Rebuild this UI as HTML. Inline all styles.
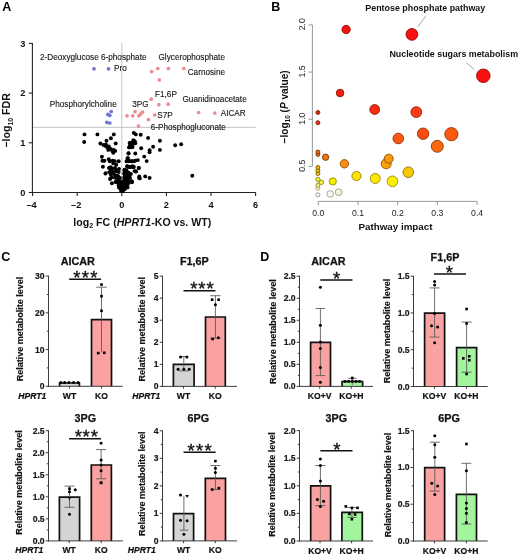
<!DOCTYPE html>
<html><head><meta charset="utf-8"><style>
html,body{margin:0;padding:0;background:#fff;}
body{width:520px;height:557px;overflow:hidden;}
svg{display:block;font-family:"Liberation Sans", sans-serif;will-change:transform;}
</style></head><body>
<svg width="520" height="557" viewBox="0 0 520 557">
<rect width="520" height="557" fill="#fff"/>
<text x="2.3" y="11.1" font-size="12.5" font-weight="bold" text-anchor="start" fill="#000">A</text>
<text x="271.3" y="11.1" font-size="12.5" font-weight="bold" text-anchor="start" fill="#000">B</text>
<text x="1.2" y="260.5" font-size="12.5" font-weight="bold" text-anchor="start" fill="#000">C</text>
<text x="260.3" y="260.5" font-size="12.5" font-weight="bold" text-anchor="start" fill="#000">D</text>
<line x1="121.8" y1="43" x2="121.8" y2="192.5" stroke="#b8b8b8" stroke-width="0.8"/>
<line x1="32.4" y1="127.4" x2="255.6" y2="127.4" stroke="#b8b8b8" stroke-width="0.8"/>
<line x1="32.4" y1="43" x2="32.4" y2="193" stroke="#222" stroke-width="1.1"/>
<line x1="31.9" y1="192.5" x2="255.8" y2="192.5" stroke="#222" stroke-width="1.1"/>
<line x1="28.8" y1="192.5" x2="32.4" y2="192.5" stroke="#222" stroke-width="1.1"/>
<text x="25.4" y="195.8" font-size="9.2" font-weight="bold" text-anchor="end" fill="#111">0</text>
<line x1="28.8" y1="142.8" x2="32.4" y2="142.8" stroke="#222" stroke-width="1.1"/>
<text x="25.4" y="146.1" font-size="9.2" font-weight="bold" text-anchor="end" fill="#111">1</text>
<line x1="28.8" y1="93.1" x2="32.4" y2="93.1" stroke="#222" stroke-width="1.1"/>
<text x="25.4" y="96.4" font-size="9.2" font-weight="bold" text-anchor="end" fill="#111">2</text>
<line x1="28.8" y1="43.4" x2="32.4" y2="43.4" stroke="#222" stroke-width="1.1"/>
<text x="25.4" y="46.7" font-size="9.2" font-weight="bold" text-anchor="end" fill="#111">3</text>
<line x1="32.6" y1="192.5" x2="32.6" y2="196" stroke="#222" stroke-width="1.1"/>
<text x="31.6" y="207.8" font-size="9.2" font-weight="bold" text-anchor="middle" fill="#111">–4</text>
<line x1="77.2" y1="192.5" x2="77.2" y2="196" stroke="#222" stroke-width="1.1"/>
<text x="76.2" y="207.8" font-size="9.2" font-weight="bold" text-anchor="middle" fill="#111">–2</text>
<line x1="121.8" y1="192.5" x2="121.8" y2="196" stroke="#222" stroke-width="1.1"/>
<text x="121.8" y="207.8" font-size="9.2" font-weight="bold" text-anchor="middle" fill="#111">0</text>
<line x1="166.4" y1="192.5" x2="166.4" y2="196" stroke="#222" stroke-width="1.1"/>
<text x="166.4" y="207.8" font-size="9.2" font-weight="bold" text-anchor="middle" fill="#111">2</text>
<line x1="211" y1="192.5" x2="211" y2="196" stroke="#222" stroke-width="1.1"/>
<text x="211" y="207.8" font-size="9.2" font-weight="bold" text-anchor="middle" fill="#111">4</text>
<line x1="255.6" y1="192.5" x2="255.6" y2="196" stroke="#222" stroke-width="1.1"/>
<text x="255.6" y="207.8" font-size="9.2" font-weight="bold" text-anchor="middle" fill="#111">6</text>
<text x="10.3" y="120.6" font-size="10.6" font-weight="bold" text-anchor="middle" fill="#111" transform="rotate(-90 10.2 120.5)">−log<tspan font-size="7" dy="2.4">10</tspan><tspan dy="-2.4"> FDR</tspan></text>
<text x="142.3" y="225.6" font-size="10.6" font-weight="bold" text-anchor="middle" fill="#111">log<tspan font-size="7" dy="2.7">2</tspan><tspan dy="-2.7"> FC (</tspan><tspan font-style="italic">HPRT1</tspan>-KO vs. WT)</text>
<text x="40" y="59.8" font-size="8.2" text-anchor="start" fill="#151515" stroke="#151515" stroke-width="0.12">2-Deoxyglucose 6-phosphate</text>
<text x="114" y="70.5" font-size="8.2" text-anchor="start" fill="#151515" stroke="#151515" stroke-width="0.12">Pro</text>
<text x="49.8" y="106.9" font-size="8.2" text-anchor="start" fill="#151515" stroke="#151515" stroke-width="0.12">Phosphorylcholine</text>
<text x="158.5" y="60.4" font-size="8.2" text-anchor="start" fill="#151515" stroke="#151515" stroke-width="0.12">Glycerophosphate</text>
<text x="187.7" y="75.2" font-size="8.2" text-anchor="start" fill="#151515" stroke="#151515" stroke-width="0.12">Carnosine</text>
<text x="155" y="97.1" font-size="8.2" text-anchor="start" fill="#151515" stroke="#151515" stroke-width="0.12">F1,6P</text>
<text x="182.5" y="102.4" font-size="8.2" text-anchor="start" fill="#151515" stroke="#151515" stroke-width="0.12">Guanidinoacetate</text>
<text x="132.2" y="107.1" font-size="8.2" text-anchor="start" fill="#151515" stroke="#151515" stroke-width="0.12">3PG</text>
<text x="157.3" y="118.2" font-size="8.2" text-anchor="start" fill="#151515" stroke="#151515" stroke-width="0.12">S7P</text>
<text x="220.7" y="116.2" font-size="8.2" text-anchor="start" fill="#151515" stroke="#151515" stroke-width="0.12">AICAR</text>
<text x="150.7" y="130.2" font-size="8.2" text-anchor="start" fill="#151515" stroke="#151515" stroke-width="0.12">6-Phosphogluconate</text>
<circle cx="84.5" cy="134.4" r="1.95" fill="#000" stroke="none" stroke-width="0.6"/>
<circle cx="84.2" cy="142" r="1.95" fill="#000" stroke="none" stroke-width="0.6"/>
<circle cx="97.4" cy="134.4" r="1.95" fill="#000" stroke="none" stroke-width="0.6"/>
<circle cx="113.8" cy="134.4" r="1.95" fill="#000" stroke="none" stroke-width="0.6"/>
<circle cx="110.9" cy="138.2" r="1.95" fill="#000" stroke="none" stroke-width="0.6"/>
<circle cx="106.5" cy="140.7" r="1.95" fill="#000" stroke="none" stroke-width="0.6"/>
<circle cx="100.4" cy="143.5" r="1.95" fill="#000" stroke="none" stroke-width="0.6"/>
<circle cx="103.4" cy="144.9" r="1.95" fill="#000" stroke="none" stroke-width="0.6"/>
<circle cx="105.4" cy="145.9" r="1.95" fill="#000" stroke="none" stroke-width="0.6"/>
<circle cx="105.9" cy="144.4" r="1.95" fill="#000" stroke="none" stroke-width="0.6"/>
<circle cx="107.3" cy="147.4" r="1.95" fill="#000" stroke="none" stroke-width="0.6"/>
<circle cx="108.8" cy="146.4" r="1.95" fill="#000" stroke="none" stroke-width="0.6"/>
<circle cx="108.3" cy="149.9" r="1.95" fill="#000" stroke="none" stroke-width="0.6"/>
<circle cx="110.8" cy="148.9" r="1.95" fill="#000" stroke="none" stroke-width="0.6"/>
<circle cx="112.3" cy="150.9" r="1.95" fill="#000" stroke="none" stroke-width="0.6"/>
<circle cx="113.8" cy="149.9" r="1.95" fill="#000" stroke="none" stroke-width="0.6"/>
<circle cx="115.2" cy="150.9" r="1.95" fill="#000" stroke="none" stroke-width="0.6"/>
<circle cx="115.7" cy="143.5" r="1.95" fill="#000" stroke="none" stroke-width="0.6"/>
<circle cx="113.3" cy="152.8" r="1.95" fill="#000" stroke="none" stroke-width="0.6"/>
<circle cx="101.9" cy="156.8" r="1.95" fill="#000" stroke="none" stroke-width="0.6"/>
<circle cx="102.4" cy="160.7" r="1.95" fill="#000" stroke="none" stroke-width="0.6"/>
<circle cx="104.4" cy="160.7" r="1.95" fill="#000" stroke="none" stroke-width="0.6"/>
<circle cx="108.8" cy="159.3" r="1.95" fill="#000" stroke="none" stroke-width="0.6"/>
<circle cx="109.8" cy="161.2" r="1.95" fill="#000" stroke="none" stroke-width="0.6"/>
<circle cx="112.8" cy="160.7" r="1.95" fill="#000" stroke="none" stroke-width="0.6"/>
<circle cx="114.8" cy="161.2" r="1.95" fill="#000" stroke="none" stroke-width="0.6"/>
<circle cx="118.7" cy="161.2" r="1.95" fill="#000" stroke="none" stroke-width="0.6"/>
<circle cx="113.3" cy="163.2" r="1.95" fill="#000" stroke="none" stroke-width="0.6"/>
<circle cx="116.2" cy="164.7" r="1.95" fill="#000" stroke="none" stroke-width="0.6"/>
<circle cx="102.9" cy="166.7" r="1.95" fill="#000" stroke="none" stroke-width="0.6"/>
<circle cx="110.8" cy="167.2" r="1.95" fill="#000" stroke="none" stroke-width="0.6"/>
<circle cx="112.3" cy="168.6" r="1.95" fill="#000" stroke="none" stroke-width="0.6"/>
<circle cx="105.4" cy="173.6" r="1.95" fill="#000" stroke="none" stroke-width="0.6"/>
<circle cx="109.3" cy="172.1" r="1.95" fill="#000" stroke="none" stroke-width="0.6"/>
<circle cx="112.3" cy="171.6" r="1.95" fill="#000" stroke="none" stroke-width="0.6"/>
<circle cx="115.7" cy="171.6" r="1.95" fill="#000" stroke="none" stroke-width="0.6"/>
<circle cx="118.7" cy="172.1" r="1.95" fill="#000" stroke="none" stroke-width="0.6"/>
<circle cx="110.8" cy="174.6" r="1.95" fill="#000" stroke="none" stroke-width="0.6"/>
<circle cx="113.8" cy="174.1" r="1.95" fill="#000" stroke="none" stroke-width="0.6"/>
<circle cx="111.3" cy="177.5" r="1.95" fill="#000" stroke="none" stroke-width="0.6"/>
<circle cx="114.8" cy="177.5" r="1.95" fill="#000" stroke="none" stroke-width="0.6"/>
<circle cx="116.2" cy="175.6" r="1.95" fill="#000" stroke="none" stroke-width="0.6"/>
<circle cx="118.2" cy="179" r="1.95" fill="#000" stroke="none" stroke-width="0.6"/>
<circle cx="111.9" cy="183.3" r="1.95" fill="#000" stroke="none" stroke-width="0.6"/>
<circle cx="117.7" cy="182.5" r="1.95" fill="#000" stroke="none" stroke-width="0.6"/>
<circle cx="119.7" cy="181.5" r="1.95" fill="#000" stroke="none" stroke-width="0.6"/>
<circle cx="118.7" cy="185.4" r="1.95" fill="#000" stroke="none" stroke-width="0.6"/>
<circle cx="120.7" cy="184.4" r="1.95" fill="#000" stroke="none" stroke-width="0.6"/>
<circle cx="120.2" cy="188.4" r="1.95" fill="#000" stroke="none" stroke-width="0.6"/>
<circle cx="121.7" cy="189.4" r="1.95" fill="#000" stroke="none" stroke-width="0.6"/>
<circle cx="124.6" cy="169.6" r="1.95" fill="#000" stroke="none" stroke-width="0.6"/>
<circle cx="126.6" cy="170.6" r="1.95" fill="#000" stroke="none" stroke-width="0.6"/>
<circle cx="128.6" cy="172.6" r="1.95" fill="#000" stroke="none" stroke-width="0.6"/>
<circle cx="124.6" cy="174.6" r="1.95" fill="#000" stroke="none" stroke-width="0.6"/>
<circle cx="125.6" cy="176.5" r="1.95" fill="#000" stroke="none" stroke-width="0.6"/>
<circle cx="127.6" cy="179" r="1.95" fill="#000" stroke="none" stroke-width="0.6"/>
<circle cx="129.6" cy="175.6" r="1.95" fill="#000" stroke="none" stroke-width="0.6"/>
<circle cx="132" cy="182" r="1.95" fill="#000" stroke="none" stroke-width="0.6"/>
<circle cx="124.6" cy="181.5" r="1.95" fill="#000" stroke="none" stroke-width="0.6"/>
<circle cx="123.1" cy="184.4" r="1.95" fill="#000" stroke="none" stroke-width="0.6"/>
<circle cx="126.6" cy="184.4" r="1.95" fill="#000" stroke="none" stroke-width="0.6"/>
<circle cx="124.6" cy="187.4" r="1.95" fill="#000" stroke="none" stroke-width="0.6"/>
<circle cx="127.6" cy="187.4" r="1.95" fill="#000" stroke="none" stroke-width="0.6"/>
<circle cx="123.1" cy="189.4" r="1.95" fill="#000" stroke="none" stroke-width="0.6"/>
<circle cx="129.6" cy="143" r="1.95" fill="#000" stroke="none" stroke-width="0.6"/>
<circle cx="130.6" cy="145.4" r="1.95" fill="#000" stroke="none" stroke-width="0.6"/>
<circle cx="129.1" cy="147.4" r="1.95" fill="#000" stroke="none" stroke-width="0.6"/>
<circle cx="132.5" cy="145.9" r="1.95" fill="#000" stroke="none" stroke-width="0.6"/>
<circle cx="128.6" cy="153.3" r="1.95" fill="#000" stroke="none" stroke-width="0.6"/>
<circle cx="127.6" cy="158.3" r="1.95" fill="#000" stroke="none" stroke-width="0.6"/>
<circle cx="126.6" cy="161.2" r="1.95" fill="#000" stroke="none" stroke-width="0.6"/>
<circle cx="129.1" cy="161.2" r="1.95" fill="#000" stroke="none" stroke-width="0.6"/>
<circle cx="131.5" cy="161.2" r="1.95" fill="#000" stroke="none" stroke-width="0.6"/>
<circle cx="134" cy="161.2" r="1.95" fill="#000" stroke="none" stroke-width="0.6"/>
<circle cx="127.1" cy="166.2" r="1.95" fill="#000" stroke="none" stroke-width="0.6"/>
<circle cx="129.6" cy="166.7" r="1.95" fill="#000" stroke="none" stroke-width="0.6"/>
<circle cx="132.5" cy="166.2" r="1.95" fill="#000" stroke="none" stroke-width="0.6"/>
<circle cx="134.5" cy="171.1" r="1.95" fill="#000" stroke="none" stroke-width="0.6"/>
<circle cx="133.8" cy="132.9" r="1.95" fill="#000" stroke="none" stroke-width="0.6"/>
<circle cx="135.8" cy="134.4" r="1.95" fill="#000" stroke="none" stroke-width="0.6"/>
<circle cx="140.7" cy="134.7" r="1.95" fill="#000" stroke="none" stroke-width="0.6"/>
<circle cx="148.1" cy="137.9" r="1.95" fill="#000" stroke="none" stroke-width="0.6"/>
<circle cx="159.9" cy="140.8" r="1.95" fill="#000" stroke="none" stroke-width="0.6"/>
<circle cx="133.3" cy="140.3" r="1.95" fill="#000" stroke="none" stroke-width="0.6"/>
<circle cx="134.8" cy="141.3" r="1.95" fill="#000" stroke="none" stroke-width="0.6"/>
<circle cx="130.9" cy="143.3" r="1.95" fill="#000" stroke="none" stroke-width="0.6"/>
<circle cx="132.3" cy="142.8" r="1.95" fill="#000" stroke="none" stroke-width="0.6"/>
<circle cx="135.3" cy="143.3" r="1.95" fill="#000" stroke="none" stroke-width="0.6"/>
<circle cx="129.9" cy="145.8" r="1.95" fill="#000" stroke="none" stroke-width="0.6"/>
<circle cx="131.9" cy="145.3" r="1.95" fill="#000" stroke="none" stroke-width="0.6"/>
<circle cx="129.4" cy="147.3" r="1.95" fill="#000" stroke="none" stroke-width="0.6"/>
<circle cx="132.3" cy="147.3" r="1.95" fill="#000" stroke="none" stroke-width="0.6"/>
<circle cx="141.2" cy="148.2" r="1.95" fill="#000" stroke="none" stroke-width="0.6"/>
<circle cx="153.1" cy="146.8" r="1.95" fill="#000" stroke="none" stroke-width="0.6"/>
<circle cx="149.6" cy="150.2" r="1.95" fill="#000" stroke="none" stroke-width="0.6"/>
<circle cx="149.6" cy="152.2" r="1.95" fill="#000" stroke="none" stroke-width="0.6"/>
<circle cx="159.9" cy="149.9" r="1.95" fill="#000" stroke="none" stroke-width="0.6"/>
<circle cx="128.4" cy="153.5" r="1.95" fill="#000" stroke="none" stroke-width="0.6"/>
<circle cx="135.3" cy="153.5" r="1.95" fill="#000" stroke="none" stroke-width="0.6"/>
<circle cx="144.2" cy="156.6" r="1.95" fill="#000" stroke="none" stroke-width="0.6"/>
<circle cx="127.9" cy="158.1" r="1.95" fill="#000" stroke="none" stroke-width="0.6"/>
<circle cx="126.9" cy="161.1" r="1.95" fill="#000" stroke="none" stroke-width="0.6"/>
<circle cx="129.4" cy="161.1" r="1.95" fill="#000" stroke="none" stroke-width="0.6"/>
<circle cx="132.3" cy="161.1" r="1.95" fill="#000" stroke="none" stroke-width="0.6"/>
<circle cx="135.3" cy="160.6" r="1.95" fill="#000" stroke="none" stroke-width="0.6"/>
<circle cx="137.8" cy="160.1" r="1.95" fill="#000" stroke="none" stroke-width="0.6"/>
<circle cx="146.7" cy="161.1" r="1.95" fill="#000" stroke="none" stroke-width="0.6"/>
<circle cx="127.4" cy="166.5" r="1.95" fill="#000" stroke="none" stroke-width="0.6"/>
<circle cx="129.9" cy="167" r="1.95" fill="#000" stroke="none" stroke-width="0.6"/>
<circle cx="131.9" cy="167" r="1.95" fill="#000" stroke="none" stroke-width="0.6"/>
<circle cx="133.8" cy="167" r="1.95" fill="#000" stroke="none" stroke-width="0.6"/>
<circle cx="138.8" cy="168" r="1.95" fill="#000" stroke="none" stroke-width="0.6"/>
<circle cx="135.8" cy="171.5" r="1.95" fill="#000" stroke="none" stroke-width="0.6"/>
<circle cx="124.4" cy="170.5" r="1.95" fill="#000" stroke="none" stroke-width="0.6"/>
<circle cx="125.9" cy="172.4" r="1.95" fill="#000" stroke="none" stroke-width="0.6"/>
<circle cx="127.9" cy="173.9" r="1.95" fill="#000" stroke="none" stroke-width="0.6"/>
<circle cx="130.9" cy="173.9" r="1.95" fill="#000" stroke="none" stroke-width="0.6"/>
<circle cx="124.2" cy="173.4" r="1.95" fill="#000" stroke="none" stroke-width="0.6"/>
<circle cx="139.3" cy="176.4" r="1.95" fill="#000" stroke="none" stroke-width="0.6"/>
<circle cx="139.8" cy="178.4" r="1.95" fill="#000" stroke="none" stroke-width="0.6"/>
<circle cx="145.2" cy="176.4" r="1.95" fill="#000" stroke="none" stroke-width="0.6"/>
<circle cx="149.6" cy="177.9" r="1.95" fill="#000" stroke="none" stroke-width="0.6"/>
<circle cx="124.3" cy="177.4" r="1.95" fill="#000" stroke="none" stroke-width="0.6"/>
<circle cx="125.9" cy="178.4" r="1.95" fill="#000" stroke="none" stroke-width="0.6"/>
<circle cx="127.9" cy="179.4" r="1.95" fill="#000" stroke="none" stroke-width="0.6"/>
<circle cx="131.9" cy="181.3" r="1.95" fill="#000" stroke="none" stroke-width="0.6"/>
<circle cx="124" cy="180.3" r="1.95" fill="#000" stroke="none" stroke-width="0.6"/>
<circle cx="175.2" cy="145.3" r="1.95" fill="#000" stroke="none" stroke-width="0.6"/>
<circle cx="181.2" cy="144.3" r="1.95" fill="#000" stroke="none" stroke-width="0.6"/>
<circle cx="192.3" cy="175.7" r="1.95" fill="#000" stroke="none" stroke-width="0.6"/>
<circle cx="109" cy="168" r="1.95" fill="#000" stroke="none" stroke-width="0.6"/>
<circle cx="111" cy="170" r="1.95" fill="#000" stroke="none" stroke-width="0.6"/>
<circle cx="115" cy="168" r="1.95" fill="#000" stroke="none" stroke-width="0.6"/>
<circle cx="119" cy="169" r="1.95" fill="#000" stroke="none" stroke-width="0.6"/>
<circle cx="118" cy="176" r="1.95" fill="#000" stroke="none" stroke-width="0.6"/>
<circle cx="120" cy="178" r="1.95" fill="#000" stroke="none" stroke-width="0.6"/>
<circle cx="117" cy="180" r="1.95" fill="#000" stroke="none" stroke-width="0.6"/>
<circle cx="119" cy="183" r="1.95" fill="#000" stroke="none" stroke-width="0.6"/>
<circle cx="121" cy="186" r="1.95" fill="#000" stroke="none" stroke-width="0.6"/>
<circle cx="122.5" cy="187" r="1.95" fill="#000" stroke="none" stroke-width="0.6"/>
<circle cx="121" cy="191" r="1.95" fill="#000" stroke="none" stroke-width="0.6"/>
<circle cx="123" cy="191" r="1.95" fill="#000" stroke="none" stroke-width="0.6"/>
<circle cx="125" cy="189" r="1.95" fill="#000" stroke="none" stroke-width="0.6"/>
<circle cx="126" cy="186" r="1.95" fill="#000" stroke="none" stroke-width="0.6"/>
<circle cx="128" cy="184" r="1.95" fill="#000" stroke="none" stroke-width="0.6"/>
<circle cx="129" cy="182" r="1.95" fill="#000" stroke="none" stroke-width="0.6"/>
<circle cx="128" cy="177" r="1.95" fill="#000" stroke="none" stroke-width="0.6"/>
<circle cx="130" cy="178" r="1.95" fill="#000" stroke="none" stroke-width="0.6"/>
<circle cx="125" cy="182.5" r="1.95" fill="#000" stroke="none" stroke-width="0.6"/>
<circle cx="122.5" cy="182" r="1.95" fill="#000" stroke="none" stroke-width="0.6"/>
<circle cx="127.9" cy="167" r="1.95" fill="#000" stroke="none" stroke-width="0.6"/>
<circle cx="133.3" cy="167" r="1.95" fill="#000" stroke="none" stroke-width="0.6"/>
<circle cx="136" cy="171.4" r="1.95" fill="#000" stroke="none" stroke-width="0.6"/>
<circle cx="138.7" cy="168" r="1.95" fill="#000" stroke="none" stroke-width="0.6"/>
<circle cx="139" cy="177.8" r="1.95" fill="#000" stroke="none" stroke-width="0.6"/>
<circle cx="105.7" cy="173.1" r="1.95" fill="#000" stroke="none" stroke-width="0.6"/>
<circle cx="131.9" cy="182.2" r="1.95" fill="#000" stroke="none" stroke-width="0.6"/>
<circle cx="116" cy="170" r="1.95" fill="#000" stroke="none" stroke-width="0.6"/>
<circle cx="110" cy="179" r="1.95" fill="#000" stroke="none" stroke-width="0.6"/>
<circle cx="115.5" cy="182" r="1.95" fill="#000" stroke="none" stroke-width="0.6"/>
<circle cx="119" cy="187.5" r="1.95" fill="#000" stroke="none" stroke-width="0.6"/>
<circle cx="126.5" cy="181" r="1.95" fill="#000" stroke="none" stroke-width="0.6"/>
<circle cx="151.6" cy="71.6" r="1.85" fill="#ec8c92" stroke="none" stroke-width="0.6"/>
<circle cx="157.8" cy="68.5" r="1.85" fill="#ec8c92" stroke="none" stroke-width="0.6"/>
<circle cx="168.4" cy="68.5" r="1.85" fill="#ec8c92" stroke="none" stroke-width="0.6"/>
<circle cx="183.8" cy="68.5" r="1.85" fill="#ec8c92" stroke="none" stroke-width="0.6"/>
<circle cx="159.3" cy="79.9" r="1.85" fill="#ec8c92" stroke="none" stroke-width="0.6"/>
<circle cx="151.2" cy="99.2" r="1.85" fill="#ec8c92" stroke="none" stroke-width="0.6"/>
<circle cx="158.8" cy="104.7" r="1.85" fill="#ec8c92" stroke="none" stroke-width="0.6"/>
<circle cx="168.1" cy="104.2" r="1.85" fill="#ec8c92" stroke="none" stroke-width="0.6"/>
<circle cx="135" cy="111.6" r="1.85" fill="#ec8c92" stroke="none" stroke-width="0.6"/>
<circle cx="142.4" cy="112.2" r="1.85" fill="#ec8c92" stroke="none" stroke-width="0.6"/>
<circle cx="140.4" cy="114.2" r="1.85" fill="#ec8c92" stroke="none" stroke-width="0.6"/>
<circle cx="138.8" cy="115.8" r="1.85" fill="#ec8c92" stroke="none" stroke-width="0.6"/>
<circle cx="132.7" cy="115.8" r="1.85" fill="#ec8c92" stroke="none" stroke-width="0.6"/>
<circle cx="127" cy="115.8" r="1.85" fill="#ec8c92" stroke="none" stroke-width="0.6"/>
<circle cx="154.7" cy="115" r="1.85" fill="#ec8c92" stroke="none" stroke-width="0.6"/>
<circle cx="148.4" cy="119.6" r="1.85" fill="#ec8c92" stroke="none" stroke-width="0.6"/>
<circle cx="138.5" cy="126.1" r="1.85" fill="#ec8c92" stroke="none" stroke-width="0.6"/>
<circle cx="214.8" cy="113.1" r="1.85" fill="#ec8c92" stroke="none" stroke-width="0.6"/>
<circle cx="198.6" cy="112.5" r="1.85" fill="#ec8c92" stroke="none" stroke-width="0.6"/>
<circle cx="94" cy="68.8" r="1.85" fill="#7474d0" stroke="none" stroke-width="0.6"/>
<circle cx="108.5" cy="68.8" r="1.85" fill="#7474d0" stroke="none" stroke-width="0.6"/>
<circle cx="111.2" cy="111.5" r="1.85" fill="#7474d0" stroke="none" stroke-width="0.6"/>
<circle cx="107.9" cy="114.4" r="1.85" fill="#7474d0" stroke="none" stroke-width="0.6"/>
<circle cx="109.8" cy="115.4" r="1.85" fill="#7474d0" stroke="none" stroke-width="0.6"/>
<circle cx="106.9" cy="122.3" r="1.85" fill="#7474d0" stroke="none" stroke-width="0.6"/>
<circle cx="109.8" cy="123" r="1.85" fill="#7474d0" stroke="none" stroke-width="0.6"/>
<line x1="312.4" y1="24.9" x2="312.4" y2="166.35" stroke="#8c8c8c" stroke-width="0.9"/>
<line x1="308.6" y1="166.35" x2="312.4" y2="166.35" stroke="#8c8c8c" stroke-width="0.9"/>
<text x="305.4" y="165.75" font-size="8.7" text-anchor="middle" fill="#222" transform="rotate(-90 305.4 165.75)">0.5</text>
<line x1="308.6" y1="119.2" x2="312.4" y2="119.2" stroke="#8c8c8c" stroke-width="0.9"/>
<text x="305.4" y="118.6" font-size="8.7" text-anchor="middle" fill="#222" transform="rotate(-90 305.4 118.6)">1.0</text>
<line x1="308.6" y1="72.05" x2="312.4" y2="72.05" stroke="#8c8c8c" stroke-width="0.9"/>
<text x="305.4" y="71.45" font-size="8.7" text-anchor="middle" fill="#222" transform="rotate(-90 305.4 71.45)">1.5</text>
<line x1="308.6" y1="24.9" x2="312.4" y2="24.9" stroke="#8c8c8c" stroke-width="0.9"/>
<text x="305.4" y="24.3" font-size="8.7" text-anchor="middle" fill="#222" transform="rotate(-90 305.4 24.3)">2.0</text>
<line x1="318.3" y1="201.4" x2="477.1" y2="201.4" stroke="#8c8c8c" stroke-width="0.9"/>
<line x1="318.3" y1="201.4" x2="318.3" y2="205" stroke="#8c8c8c" stroke-width="0.9"/>
<text x="318.3" y="215.6" font-size="8.7" text-anchor="middle" fill="#222">0.0</text>
<line x1="358" y1="201.4" x2="358" y2="205" stroke="#8c8c8c" stroke-width="0.9"/>
<text x="358" y="215.6" font-size="8.7" text-anchor="middle" fill="#222">0.1</text>
<line x1="397.7" y1="201.4" x2="397.7" y2="205" stroke="#8c8c8c" stroke-width="0.9"/>
<text x="397.7" y="215.6" font-size="8.7" text-anchor="middle" fill="#222">0.2</text>
<line x1="437.4" y1="201.4" x2="437.4" y2="205" stroke="#8c8c8c" stroke-width="0.9"/>
<text x="437.4" y="215.6" font-size="8.7" text-anchor="middle" fill="#222">0.3</text>
<line x1="477.1" y1="201.4" x2="477.1" y2="205" stroke="#8c8c8c" stroke-width="0.9"/>
<text x="477.1" y="215.6" font-size="8.7" text-anchor="middle" fill="#222">0.4</text>
<text x="287.9" y="106.9" font-size="10.1" font-weight="bold" text-anchor="middle" fill="#111" transform="rotate(-90 287.9 106.9)">−log<tspan font-size="6.5" dy="2.2">10</tspan><tspan dy="-2.2"> (</tspan><tspan font-style="italic">P</tspan> value)</text>
<text x="395.5" y="229.8" font-size="9.8" font-weight="bold" text-anchor="middle" fill="#111">Pathway impact</text>
<text x="485.2" y="11.3" font-size="8.9" font-weight="bold" text-anchor="end" fill="#111">Pentose phosphate pathway</text>
<text x="389.4" y="57" font-size="8.9" font-weight="bold" text-anchor="start" fill="#111">Nucleotide sugars metabolism</text>
<line x1="425.8" y1="16.2" x2="417.7" y2="26.9" stroke="#999" stroke-width="0.9"/>
<line x1="466.2" y1="62.5" x2="474.2" y2="69.5" stroke="#999" stroke-width="0.9"/>
<circle cx="317.9" cy="194.8" r="2" fill="#ffffff" stroke="#8a8a8a" stroke-width="0.85"/>
<circle cx="330.2" cy="193.9" r="3.3" fill="#fbfbf2" stroke="#9a9a88" stroke-width="0.85"/>
<circle cx="338.6" cy="192.2" r="3.4" fill="#f3f5d2" stroke="#98987a" stroke-width="0.85"/>
<circle cx="317.9" cy="188.2" r="2" fill="#f6f6c0" stroke="#9a9a60" stroke-width="0.85"/>
<circle cx="317.9" cy="185.2" r="2" fill="#f0f080" stroke="#8a8a30" stroke-width="0.85"/>
<circle cx="321.4" cy="182.3" r="2.3" fill="#f2f040" stroke="#8a8a20" stroke-width="0.85"/>
<circle cx="317.9" cy="179.5" r="2.2" fill="#f2f030" stroke="#8a8a20" stroke-width="0.85"/>
<circle cx="332.8" cy="181.4" r="3.6" fill="#f5f000" stroke="#8a8500" stroke-width="0.85"/>
<circle cx="392.5" cy="181.3" r="5.3" fill="#fcf000" stroke="#8a8400" stroke-width="0.85"/>
<circle cx="375.2" cy="178.5" r="5" fill="#fce800" stroke="#8a8000" stroke-width="0.85"/>
<circle cx="356.5" cy="176" r="4.6" fill="#fce200" stroke="#8a7c00" stroke-width="0.85"/>
<circle cx="317.9" cy="173.5" r="2" fill="#ecc018" stroke="#806000" stroke-width="0.85"/>
<circle cx="317.9" cy="170.5" r="2" fill="#eab818" stroke="#805c00" stroke-width="0.85"/>
<circle cx="317.9" cy="167.4" r="2" fill="#e8b018" stroke="#805800" stroke-width="0.85"/>
<circle cx="408.3" cy="172.2" r="5.3" fill="#f8c800" stroke="#886a00" stroke-width="0.85"/>
<circle cx="386.2" cy="163.8" r="5" fill="#f8a010" stroke="#884c00" stroke-width="0.85"/>
<circle cx="344.4" cy="163.8" r="4.2" fill="#f59010" stroke="#884400" stroke-width="0.85"/>
<circle cx="388.7" cy="158.7" r="4.5" fill="#f59a10" stroke="#884800" stroke-width="0.85"/>
<circle cx="325.6" cy="157.2" r="3.2" fill="#e87818" stroke="#803800" stroke-width="0.85"/>
<circle cx="317.9" cy="154.4" r="2" fill="#dc7020" stroke="#783000" stroke-width="0.85"/>
<circle cx="317.9" cy="152" r="2" fill="#dc6a20" stroke="#783000" stroke-width="0.85"/>
<circle cx="437.3" cy="146.3" r="6" fill="#f86a10" stroke="#883000" stroke-width="0.85"/>
<circle cx="398.3" cy="138.5" r="5.3" fill="#f85a10" stroke="#882a00" stroke-width="0.85"/>
<circle cx="451.4" cy="134.2" r="6.6" fill="#fc5a10" stroke="#882a00" stroke-width="0.85"/>
<circle cx="423.1" cy="133.7" r="5.7" fill="#fc4c10" stroke="#882400" stroke-width="0.85"/>
<circle cx="317.9" cy="122.7" r="2" fill="#dc3818" stroke="#781800" stroke-width="0.85"/>
<circle cx="317.9" cy="112.5" r="2" fill="#d83018" stroke="#781400" stroke-width="0.85"/>
<circle cx="416.3" cy="112.1" r="5.4" fill="#fc3c14" stroke="#881c00" stroke-width="0.85"/>
<circle cx="374.7" cy="109.5" r="4.9" fill="#f82a10" stroke="#881400" stroke-width="0.85"/>
<circle cx="340.1" cy="93" r="3.8" fill="#f02010" stroke="#881000" stroke-width="0.85"/>
<circle cx="346.1" cy="29.5" r="4.2" fill="#f01410" stroke="#880800" stroke-width="0.85"/>
<circle cx="411.9" cy="34.4" r="5.9" fill="#fa1010" stroke="#880800" stroke-width="0.85"/>
<circle cx="483.3" cy="75.8" r="6.8" fill="#fa1010" stroke="#880800" stroke-width="0.85"/>
<rect x="59.6" y="383" width="19.8" height="3.3" fill="#d4d4d4" stroke="none" stroke-width="1"/>
<path d="M59.6 386.3V383H79.4V386.3" fill="none" stroke="#111" stroke-width="1.7"/>
<rect x="91.5" y="319.7" width="20" height="66.6" fill="#faa2a2" stroke="none" stroke-width="1"/>
<path d="M91.5 386.3V319.7H111.5V386.3" fill="none" stroke="#111" stroke-width="1.7"/>
<line x1="101.5" y1="287.2" x2="101.5" y2="352.5" stroke="#555" stroke-width="0.85"/>
<line x1="96.2" y1="287.2" x2="106.8" y2="287.2" stroke="#555" stroke-width="0.85"/>
<circle cx="60.8" cy="382.6" r="1.5" fill="#000" stroke="none" stroke-width="0.6"/>
<circle cx="64.6" cy="382.6" r="1.5" fill="#000" stroke="none" stroke-width="0.6"/>
<circle cx="68.9" cy="382.6" r="1.5" fill="#000" stroke="none" stroke-width="0.6"/>
<circle cx="73.5" cy="382.6" r="1.5" fill="#000" stroke="none" stroke-width="0.6"/>
<circle cx="78.1" cy="382.6" r="1.5" fill="#000" stroke="none" stroke-width="0.6"/>
<rect x="100.2" y="283.3" width="2.6" height="2.6" fill="#000" stroke="none" stroke-width="1"/>
<rect x="100.2" y="294.9" width="2.6" height="2.6" fill="#000" stroke="none" stroke-width="1"/>
<rect x="100.2" y="309.5" width="2.6" height="2.6" fill="#000" stroke="none" stroke-width="1"/>
<rect x="96.9" y="351.8" width="2.6" height="2.6" fill="#000" stroke="none" stroke-width="1"/>
<rect x="103" y="351.5" width="2.6" height="2.6" fill="#000" stroke="none" stroke-width="1"/>
<line x1="48.5" y1="275.7" x2="48.5" y2="386.8" stroke="#333" stroke-width="0.95"/>
<line x1="48.1" y1="386.3" x2="122.7" y2="386.3" stroke="#333" stroke-width="0.95"/>
<line x1="45.7" y1="386.3" x2="48.5" y2="386.3" stroke="#333" stroke-width="0.95"/>
<text x="44.6" y="389.3" font-size="8.6" font-weight="bold" text-anchor="end" fill="#1a1a1a" stroke="#1a1a1a" stroke-width="0.2">0</text>
<line x1="45.7" y1="349.57" x2="48.5" y2="349.57" stroke="#333" stroke-width="0.95"/>
<text x="44.6" y="352.57" font-size="8.6" font-weight="bold" text-anchor="end" fill="#1a1a1a" stroke="#1a1a1a" stroke-width="0.2">10</text>
<line x1="45.7" y1="312.83" x2="48.5" y2="312.83" stroke="#333" stroke-width="0.95"/>
<text x="44.6" y="315.83" font-size="8.6" font-weight="bold" text-anchor="end" fill="#1a1a1a" stroke="#1a1a1a" stroke-width="0.2">20</text>
<line x1="45.7" y1="276.1" x2="48.5" y2="276.1" stroke="#333" stroke-width="0.95"/>
<text x="44.6" y="279.1" font-size="8.6" font-weight="bold" text-anchor="end" fill="#1a1a1a" stroke="#1a1a1a" stroke-width="0.2">30</text>
<line x1="46.8" y1="367.93" x2="48.5" y2="367.93" stroke="#333" stroke-width="0.95"/>
<line x1="46.8" y1="331.2" x2="48.5" y2="331.2" stroke="#333" stroke-width="0.95"/>
<line x1="46.8" y1="294.47" x2="48.5" y2="294.47" stroke="#333" stroke-width="0.95"/>
<line x1="69.5" y1="386.3" x2="69.5" y2="388.6" stroke="#333" stroke-width="0.95"/>
<text x="69.5" y="398.8" font-size="8.6" font-weight="bold" text-anchor="middle" fill="#111" stroke="#111" stroke-width="0.2">WT</text>
<line x1="101.5" y1="386.3" x2="101.5" y2="388.6" stroke="#333" stroke-width="0.95"/>
<text x="101.5" y="398.8" font-size="8.6" font-weight="bold" text-anchor="middle" fill="#111" stroke="#111" stroke-width="0.2">KO</text>
<text x="22.7" y="329" font-size="9" font-weight="bold" text-anchor="middle" fill="#111" stroke="#111" stroke-width="0.15" transform="rotate(-90 22.7 329)">Relative metabolite level</text>
<text x="77.75" y="264.5" font-size="10.8" font-weight="bold" text-anchor="middle" fill="#111" stroke="#111" stroke-width="0.25">AICAR</text>
<line x1="69.2" y1="279.3" x2="101.1" y2="279.3" stroke="#111" stroke-width="1.5"/>
<text x="76.75" y="283.7" font-size="18.5" text-anchor="middle" fill="#111" stroke="#111" stroke-width="0.35">*</text>
<text x="85.4" y="283.7" font-size="18.5" text-anchor="middle" fill="#111" stroke="#111" stroke-width="0.35">*</text>
<text x="93.9" y="283.7" font-size="18.5" text-anchor="middle" fill="#111" stroke="#111" stroke-width="0.35">*</text>
<text x="18.2" y="398.8" font-size="8.6" font-weight="bold" font-style="italic" text-anchor="start" fill="#111" stroke="#111" stroke-width="0.2">HPRT1</text>
<rect x="173.4" y="364.3" width="20.7" height="22.1" fill="#d4d4d4" stroke="none" stroke-width="1"/>
<path d="M173.4 386.4V364.3H194.1V386.4" fill="none" stroke="#111" stroke-width="1.7"/>
<rect x="205.5" y="317" width="19.8" height="69.4" fill="#faa2a2" stroke="none" stroke-width="1"/>
<path d="M205.5 386.4V317H225.3V386.4" fill="none" stroke="#111" stroke-width="1.7"/>
<line x1="183.8" y1="356.5" x2="183.8" y2="370.9" stroke="#555" stroke-width="0.85"/>
<line x1="179.2" y1="356.5" x2="188.4" y2="356.5" stroke="#555" stroke-width="0.85"/>
<line x1="179.2" y1="370.9" x2="188.4" y2="370.9" stroke="#555" stroke-width="0.85"/>
<line x1="215.4" y1="295.7" x2="215.4" y2="338.2" stroke="#555" stroke-width="0.85"/>
<line x1="210.2" y1="295.7" x2="220.6" y2="295.7" stroke="#555" stroke-width="0.85"/>
<line x1="210.2" y1="338.2" x2="220.6" y2="338.2" stroke="#555" stroke-width="0.85"/>
<circle cx="180.6" cy="357" r="1.5" fill="#000" stroke="none" stroke-width="0.6"/>
<circle cx="186.8" cy="357" r="1.5" fill="#000" stroke="none" stroke-width="0.6"/>
<circle cx="178.1" cy="369.2" r="1.5" fill="#000" stroke="none" stroke-width="0.6"/>
<circle cx="183.8" cy="369.2" r="1.5" fill="#000" stroke="none" stroke-width="0.6"/>
<circle cx="189.2" cy="369.2" r="1.5" fill="#000" stroke="none" stroke-width="0.6"/>
<rect x="210.8" y="298.4" width="2.6" height="2.6" fill="#000" stroke="none" stroke-width="1"/>
<rect x="217.3" y="298.4" width="2.6" height="2.6" fill="#000" stroke="none" stroke-width="1"/>
<circle cx="215.4" cy="304.7" r="1.5" fill="#000" stroke="none" stroke-width="0.6"/>
<rect x="211.3" y="337.7" width="2.6" height="2.6" fill="#000" stroke="none" stroke-width="1"/>
<rect x="217" y="336.5" width="2.6" height="2.6" fill="#000" stroke="none" stroke-width="1"/>
<line x1="162.5" y1="275.7" x2="162.5" y2="386.9" stroke="#333" stroke-width="0.95"/>
<line x1="162.1" y1="386.4" x2="236.9" y2="386.4" stroke="#333" stroke-width="0.95"/>
<line x1="159.7" y1="386.4" x2="162.5" y2="386.4" stroke="#333" stroke-width="0.95"/>
<text x="158.6" y="389.4" font-size="8.6" font-weight="bold" text-anchor="end" fill="#1a1a1a" stroke="#1a1a1a" stroke-width="0.2">0</text>
<line x1="159.7" y1="364.34" x2="162.5" y2="364.34" stroke="#333" stroke-width="0.95"/>
<text x="158.6" y="367.34" font-size="8.6" font-weight="bold" text-anchor="end" fill="#1a1a1a" stroke="#1a1a1a" stroke-width="0.2">1</text>
<line x1="159.7" y1="342.28" x2="162.5" y2="342.28" stroke="#333" stroke-width="0.95"/>
<text x="158.6" y="345.28" font-size="8.6" font-weight="bold" text-anchor="end" fill="#1a1a1a" stroke="#1a1a1a" stroke-width="0.2">2</text>
<line x1="159.7" y1="320.22" x2="162.5" y2="320.22" stroke="#333" stroke-width="0.95"/>
<text x="158.6" y="323.22" font-size="8.6" font-weight="bold" text-anchor="end" fill="#1a1a1a" stroke="#1a1a1a" stroke-width="0.2">3</text>
<line x1="159.7" y1="298.16" x2="162.5" y2="298.16" stroke="#333" stroke-width="0.95"/>
<text x="158.6" y="301.16" font-size="8.6" font-weight="bold" text-anchor="end" fill="#1a1a1a" stroke="#1a1a1a" stroke-width="0.2">4</text>
<line x1="159.7" y1="276.1" x2="162.5" y2="276.1" stroke="#333" stroke-width="0.95"/>
<text x="158.6" y="279.1" font-size="8.6" font-weight="bold" text-anchor="end" fill="#1a1a1a" stroke="#1a1a1a" stroke-width="0.2">5</text>
<line x1="183.5" y1="386.4" x2="183.5" y2="388.7" stroke="#333" stroke-width="0.95"/>
<text x="183.5" y="398.9" font-size="8.6" font-weight="bold" text-anchor="middle" fill="#111" stroke="#111" stroke-width="0.2">WT</text>
<line x1="215.3" y1="386.4" x2="215.3" y2="388.7" stroke="#333" stroke-width="0.95"/>
<text x="215.3" y="398.9" font-size="8.6" font-weight="bold" text-anchor="middle" fill="#111" stroke="#111" stroke-width="0.2">KO</text>
<text x="145.1" y="329.3" font-size="9" font-weight="bold" text-anchor="middle" fill="#111" stroke="#111" stroke-width="0.15" transform="rotate(-90 145.1 329.3)">Relative metabolite level</text>
<text x="194.3" y="264.6" font-size="10.8" font-weight="bold" text-anchor="middle" fill="#111" stroke="#111" stroke-width="0.25">F1,6P</text>
<line x1="183.5" y1="290.7" x2="215.4" y2="290.7" stroke="#111" stroke-width="1.5"/>
<text x="193.8" y="294.6" font-size="18.5" text-anchor="middle" fill="#111" stroke="#111" stroke-width="0.35">*</text>
<text x="201.9" y="294.6" font-size="18.5" text-anchor="middle" fill="#111" stroke="#111" stroke-width="0.35">*</text>
<text x="210" y="294.6" font-size="18.5" text-anchor="middle" fill="#111" stroke="#111" stroke-width="0.35">*</text>
<text x="132.2" y="398.9" font-size="8.6" font-weight="bold" font-style="italic" text-anchor="start" fill="#111" stroke="#111" stroke-width="0.2">HPRT1</text>
<rect x="59.4" y="497.1" width="20.2" height="43.8" fill="#d4d4d4" stroke="none" stroke-width="1"/>
<path d="M59.4 540.9V497.1H79.6V540.9" fill="none" stroke="#111" stroke-width="1.7"/>
<rect x="91.3" y="465" width="20.1" height="75.9" fill="#faa2a2" stroke="none" stroke-width="1"/>
<path d="M91.3 540.9V465H111.4V540.9" fill="none" stroke="#111" stroke-width="1.7"/>
<line x1="69.5" y1="486.1" x2="69.5" y2="507.3" stroke="#555" stroke-width="0.85"/>
<line x1="64.4" y1="486.1" x2="74.6" y2="486.1" stroke="#555" stroke-width="0.85"/>
<line x1="64.4" y1="507.3" x2="74.6" y2="507.3" stroke="#555" stroke-width="0.85"/>
<line x1="101.1" y1="449.6" x2="101.1" y2="478.8" stroke="#555" stroke-width="0.85"/>
<line x1="96" y1="449.6" x2="106.2" y2="449.6" stroke="#555" stroke-width="0.85"/>
<line x1="96" y1="478.8" x2="106.2" y2="478.8" stroke="#555" stroke-width="0.85"/>
<rect x="68.2" y="487.4" width="2.6" height="2.6" fill="#000" stroke="none" stroke-width="1"/>
<circle cx="69.5" cy="491.8" r="1.5" fill="#000" stroke="none" stroke-width="0.6"/>
<circle cx="75.3" cy="489.7" r="1.5" fill="#000" stroke="none" stroke-width="0.6"/>
<path d="M67.7 497.1L71.3 497.1L69.5 500.1Z" fill="#000"/>
<circle cx="69.5" cy="514.3" r="1.5" fill="#000" stroke="none" stroke-width="0.6"/>
<rect x="99.8" y="441.9" width="2.6" height="2.6" fill="#000" stroke="none" stroke-width="1"/>
<circle cx="101.1" cy="460" r="1.5" fill="#000" stroke="none" stroke-width="0.6"/>
<circle cx="101.1" cy="465.1" r="1.5" fill="#000" stroke="none" stroke-width="0.6"/>
<rect x="99.8" y="469.5" width="2.6" height="2.6" fill="#000" stroke="none" stroke-width="1"/>
<rect x="99.8" y="481.6" width="2.6" height="2.6" fill="#000" stroke="none" stroke-width="1"/>
<rect x="99.8" y="481.4" width="2.6" height="2.6" fill="#000" stroke="none" stroke-width="1"/>
<line x1="48.5" y1="430.3" x2="48.5" y2="541.4" stroke="#333" stroke-width="0.95"/>
<line x1="48.1" y1="540.9" x2="123" y2="540.9" stroke="#333" stroke-width="0.95"/>
<line x1="45.7" y1="540.9" x2="48.5" y2="540.9" stroke="#333" stroke-width="0.95"/>
<text x="44.6" y="543.9" font-size="8.6" font-weight="bold" text-anchor="end" fill="#1a1a1a" stroke="#1a1a1a" stroke-width="0.2">0.0</text>
<line x1="45.7" y1="518.86" x2="48.5" y2="518.86" stroke="#333" stroke-width="0.95"/>
<text x="44.6" y="521.86" font-size="8.6" font-weight="bold" text-anchor="end" fill="#1a1a1a" stroke="#1a1a1a" stroke-width="0.2">0.5</text>
<line x1="45.7" y1="496.82" x2="48.5" y2="496.82" stroke="#333" stroke-width="0.95"/>
<text x="44.6" y="499.82" font-size="8.6" font-weight="bold" text-anchor="end" fill="#1a1a1a" stroke="#1a1a1a" stroke-width="0.2">1.0</text>
<line x1="45.7" y1="474.78" x2="48.5" y2="474.78" stroke="#333" stroke-width="0.95"/>
<text x="44.6" y="477.78" font-size="8.6" font-weight="bold" text-anchor="end" fill="#1a1a1a" stroke="#1a1a1a" stroke-width="0.2">1.5</text>
<line x1="45.7" y1="452.74" x2="48.5" y2="452.74" stroke="#333" stroke-width="0.95"/>
<text x="44.6" y="455.74" font-size="8.6" font-weight="bold" text-anchor="end" fill="#1a1a1a" stroke="#1a1a1a" stroke-width="0.2">2.0</text>
<line x1="45.7" y1="430.7" x2="48.5" y2="430.7" stroke="#333" stroke-width="0.95"/>
<text x="44.6" y="433.7" font-size="8.6" font-weight="bold" text-anchor="end" fill="#1a1a1a" stroke="#1a1a1a" stroke-width="0.2">2.5</text>
<line x1="46.8" y1="529.88" x2="48.5" y2="529.88" stroke="#333" stroke-width="0.95"/>
<line x1="46.8" y1="507.84" x2="48.5" y2="507.84" stroke="#333" stroke-width="0.95"/>
<line x1="46.8" y1="485.8" x2="48.5" y2="485.8" stroke="#333" stroke-width="0.95"/>
<line x1="46.8" y1="463.76" x2="48.5" y2="463.76" stroke="#333" stroke-width="0.95"/>
<line x1="46.8" y1="441.72" x2="48.5" y2="441.72" stroke="#333" stroke-width="0.95"/>
<line x1="69.2" y1="540.9" x2="69.2" y2="543.2" stroke="#333" stroke-width="0.95"/>
<text x="69.2" y="553.4" font-size="8.6" font-weight="bold" text-anchor="middle" fill="#111" stroke="#111" stroke-width="0.2">WT</text>
<line x1="101.2" y1="540.9" x2="101.2" y2="543.2" stroke="#333" stroke-width="0.95"/>
<text x="101.2" y="553.4" font-size="8.6" font-weight="bold" text-anchor="middle" fill="#111" stroke="#111" stroke-width="0.2">KO</text>
<text x="22.4" y="482.5" font-size="9" font-weight="bold" text-anchor="middle" fill="#111" stroke="#111" stroke-width="0.15" transform="rotate(-90 22.4 482.5)">Relative metabolite level</text>
<text x="85.4" y="421.7" font-size="10.8" font-weight="bold" text-anchor="middle" fill="#111" stroke="#111" stroke-width="0.25">3PG</text>
<line x1="69.1" y1="438.7" x2="101.1" y2="438.7" stroke="#111" stroke-width="1.5"/>
<text x="78.3" y="443.4" font-size="18.5" text-anchor="middle" fill="#111" stroke="#111" stroke-width="0.35">*</text>
<text x="86.2" y="443.4" font-size="18.5" text-anchor="middle" fill="#111" stroke="#111" stroke-width="0.35">*</text>
<text x="94.3" y="443.4" font-size="18.5" text-anchor="middle" fill="#111" stroke="#111" stroke-width="0.35">*</text>
<text x="15.2" y="553.4" font-size="8.6" font-weight="bold" font-style="italic" text-anchor="start" fill="#111" stroke="#111" stroke-width="0.2">HPRT1</text>
<rect x="173.5" y="513.6" width="20.1" height="27.3" fill="#d4d4d4" stroke="none" stroke-width="1"/>
<path d="M173.5 540.9V513.6H193.6V540.9" fill="none" stroke="#111" stroke-width="1.7"/>
<rect x="205.3" y="478.3" width="20.2" height="62.6" fill="#faa2a2" stroke="none" stroke-width="1"/>
<path d="M205.3 540.9V478.3H225.5V540.9" fill="none" stroke="#111" stroke-width="1.7"/>
<line x1="183.9" y1="495.7" x2="183.9" y2="530.2" stroke="#555" stroke-width="0.85"/>
<line x1="179.7" y1="530.2" x2="188.1" y2="530.2" stroke="#555" stroke-width="0.85"/>
<line x1="215.4" y1="465.5" x2="215.4" y2="489.4" stroke="#555" stroke-width="0.85"/>
<line x1="210.4" y1="465.5" x2="220.4" y2="465.5" stroke="#555" stroke-width="0.85"/>
<line x1="210.4" y1="489.4" x2="220.4" y2="489.4" stroke="#555" stroke-width="0.85"/>
<circle cx="180.5" cy="495.1" r="1.5" fill="#000" stroke="none" stroke-width="0.6"/>
<path d="M185.3 495.1L188.9 495.1L187.1 498.1Z" fill="#000"/>
<circle cx="180.5" cy="520.2" r="1.5" fill="#000" stroke="none" stroke-width="0.6"/>
<circle cx="187.1" cy="520.8" r="1.5" fill="#000" stroke="none" stroke-width="0.6"/>
<circle cx="183.9" cy="534.3" r="1.5" fill="#000" stroke="none" stroke-width="0.6"/>
<rect x="214.1" y="459.8" width="2.6" height="2.6" fill="#000" stroke="none" stroke-width="1"/>
<circle cx="215.4" cy="468.3" r="1.5" fill="#000" stroke="none" stroke-width="0.6"/>
<circle cx="215.4" cy="472.5" r="1.5" fill="#000" stroke="none" stroke-width="0.6"/>
<circle cx="212.2" cy="489.4" r="1.5" fill="#000" stroke="none" stroke-width="0.6"/>
<rect x="217.5" y="486.8" width="2.6" height="2.6" fill="#000" stroke="none" stroke-width="1"/>
<line x1="162.5" y1="430.4" x2="162.5" y2="541.4" stroke="#333" stroke-width="0.95"/>
<line x1="162.1" y1="540.9" x2="237" y2="540.9" stroke="#333" stroke-width="0.95"/>
<line x1="159.7" y1="540.9" x2="162.5" y2="540.9" stroke="#333" stroke-width="0.95"/>
<text x="158.6" y="543.9" font-size="8.6" font-weight="bold" text-anchor="end" fill="#1a1a1a" stroke="#1a1a1a" stroke-width="0.2">0</text>
<line x1="159.7" y1="513.38" x2="162.5" y2="513.38" stroke="#333" stroke-width="0.95"/>
<text x="158.6" y="516.38" font-size="8.6" font-weight="bold" text-anchor="end" fill="#1a1a1a" stroke="#1a1a1a" stroke-width="0.2">1</text>
<line x1="159.7" y1="485.85" x2="162.5" y2="485.85" stroke="#333" stroke-width="0.95"/>
<text x="158.6" y="488.85" font-size="8.6" font-weight="bold" text-anchor="end" fill="#1a1a1a" stroke="#1a1a1a" stroke-width="0.2">2</text>
<line x1="159.7" y1="458.32" x2="162.5" y2="458.32" stroke="#333" stroke-width="0.95"/>
<text x="158.6" y="461.32" font-size="8.6" font-weight="bold" text-anchor="end" fill="#1a1a1a" stroke="#1a1a1a" stroke-width="0.2">3</text>
<line x1="159.7" y1="430.8" x2="162.5" y2="430.8" stroke="#333" stroke-width="0.95"/>
<text x="158.6" y="433.8" font-size="8.6" font-weight="bold" text-anchor="end" fill="#1a1a1a" stroke="#1a1a1a" stroke-width="0.2">4</text>
<line x1="160.8" y1="527.14" x2="162.5" y2="527.14" stroke="#333" stroke-width="0.95"/>
<line x1="160.8" y1="499.61" x2="162.5" y2="499.61" stroke="#333" stroke-width="0.95"/>
<line x1="160.8" y1="472.09" x2="162.5" y2="472.09" stroke="#333" stroke-width="0.95"/>
<line x1="160.8" y1="444.56" x2="162.5" y2="444.56" stroke="#333" stroke-width="0.95"/>
<line x1="183.6" y1="540.9" x2="183.6" y2="543.2" stroke="#333" stroke-width="0.95"/>
<text x="183.6" y="553.4" font-size="8.6" font-weight="bold" text-anchor="middle" fill="#111" stroke="#111" stroke-width="0.2">WT</text>
<line x1="215.3" y1="540.9" x2="215.3" y2="543.2" stroke="#333" stroke-width="0.95"/>
<text x="215.3" y="553.4" font-size="8.6" font-weight="bold" text-anchor="middle" fill="#111" stroke="#111" stroke-width="0.2">KO</text>
<text x="144.8" y="483.8" font-size="9" font-weight="bold" text-anchor="middle" fill="#111" stroke="#111" stroke-width="0.15" transform="rotate(-90 144.8 483.8)">Relative metabolite level</text>
<text x="198.4" y="421.8" font-size="10.8" font-weight="bold" text-anchor="middle" fill="#111" stroke="#111" stroke-width="0.25">6PG</text>
<line x1="183.5" y1="452.3" x2="215.6" y2="452.3" stroke="#111" stroke-width="1.5"/>
<text x="191" y="457" font-size="18.5" text-anchor="middle" fill="#111" stroke="#111" stroke-width="0.35">*</text>
<text x="199.5" y="457" font-size="18.5" text-anchor="middle" fill="#111" stroke="#111" stroke-width="0.35">*</text>
<text x="208" y="457" font-size="18.5" text-anchor="middle" fill="#111" stroke="#111" stroke-width="0.35">*</text>
<text x="127.8" y="553.4" font-size="8.6" font-weight="bold" font-style="italic" text-anchor="start" fill="#111" stroke="#111" stroke-width="0.2">HPRT1</text>
<rect x="310.6" y="342.4" width="19.9" height="44" fill="#faa2a2" stroke="none" stroke-width="1"/>
<path d="M310.6 386.4V342.4H330.5V386.4" fill="none" stroke="#111" stroke-width="1.7"/>
<rect x="342.1" y="381.5" width="20.5" height="4.9" fill="#a2f59c" stroke="none" stroke-width="1"/>
<path d="M342.1 386.4V381.5H362.6V386.4" fill="none" stroke="#111" stroke-width="1.7"/>
<line x1="320.4" y1="308.5" x2="320.4" y2="375.6" stroke="#555" stroke-width="0.85"/>
<line x1="315.6" y1="308.5" x2="325.2" y2="308.5" stroke="#555" stroke-width="0.85"/>
<line x1="315.6" y1="375.6" x2="325.2" y2="375.6" stroke="#555" stroke-width="0.85"/>
<line x1="352.3" y1="378.3" x2="352.3" y2="385" stroke="#555" stroke-width="0.85"/>
<line x1="348.3" y1="378.3" x2="356.3" y2="378.3" stroke="#555" stroke-width="0.85"/>
<circle cx="320.4" cy="287.3" r="1.5" fill="#000" stroke="none" stroke-width="0.6"/>
<circle cx="320.4" cy="325.3" r="1.5" fill="#000" stroke="none" stroke-width="0.6"/>
<circle cx="320.4" cy="341.9" r="1.5" fill="#000" stroke="none" stroke-width="0.6"/>
<circle cx="320.4" cy="348.5" r="1.5" fill="#000" stroke="none" stroke-width="0.6"/>
<circle cx="320.4" cy="367.5" r="1.5" fill="#000" stroke="none" stroke-width="0.6"/>
<circle cx="320.4" cy="382.2" r="1.5" fill="#000" stroke="none" stroke-width="0.6"/>
<rect x="343.6" y="380.1" width="2.6" height="2.6" fill="#000" stroke="none" stroke-width="1"/>
<rect x="347.3" y="380.1" width="2.6" height="2.6" fill="#000" stroke="none" stroke-width="1"/>
<rect x="351" y="380.1" width="2.6" height="2.6" fill="#000" stroke="none" stroke-width="1"/>
<rect x="354.7" y="380.1" width="2.6" height="2.6" fill="#000" stroke="none" stroke-width="1"/>
<rect x="358.3" y="380.1" width="2.6" height="2.6" fill="#000" stroke="none" stroke-width="1"/>
<rect x="351" y="376.7" width="2.6" height="2.6" fill="#000" stroke="none" stroke-width="1"/>
<line x1="299.5" y1="275.8" x2="299.5" y2="386.9" stroke="#333" stroke-width="0.95"/>
<line x1="299.1" y1="386.4" x2="373" y2="386.4" stroke="#333" stroke-width="0.95"/>
<line x1="296.7" y1="386.4" x2="299.5" y2="386.4" stroke="#333" stroke-width="0.95"/>
<text x="295.6" y="389.4" font-size="8.6" font-weight="bold" text-anchor="end" fill="#1a1a1a" stroke="#1a1a1a" stroke-width="0.2">0.0</text>
<line x1="296.7" y1="364.36" x2="299.5" y2="364.36" stroke="#333" stroke-width="0.95"/>
<text x="295.6" y="367.36" font-size="8.6" font-weight="bold" text-anchor="end" fill="#1a1a1a" stroke="#1a1a1a" stroke-width="0.2">0.5</text>
<line x1="296.7" y1="342.32" x2="299.5" y2="342.32" stroke="#333" stroke-width="0.95"/>
<text x="295.6" y="345.32" font-size="8.6" font-weight="bold" text-anchor="end" fill="#1a1a1a" stroke="#1a1a1a" stroke-width="0.2">1.0</text>
<line x1="296.7" y1="320.28" x2="299.5" y2="320.28" stroke="#333" stroke-width="0.95"/>
<text x="295.6" y="323.28" font-size="8.6" font-weight="bold" text-anchor="end" fill="#1a1a1a" stroke="#1a1a1a" stroke-width="0.2">1.5</text>
<line x1="296.7" y1="298.24" x2="299.5" y2="298.24" stroke="#333" stroke-width="0.95"/>
<text x="295.6" y="301.24" font-size="8.6" font-weight="bold" text-anchor="end" fill="#1a1a1a" stroke="#1a1a1a" stroke-width="0.2">2.0</text>
<line x1="296.7" y1="276.2" x2="299.5" y2="276.2" stroke="#333" stroke-width="0.95"/>
<text x="295.6" y="279.2" font-size="8.6" font-weight="bold" text-anchor="end" fill="#1a1a1a" stroke="#1a1a1a" stroke-width="0.2">2.5</text>
<line x1="297.8" y1="375.38" x2="299.5" y2="375.38" stroke="#333" stroke-width="0.95"/>
<line x1="297.8" y1="353.34" x2="299.5" y2="353.34" stroke="#333" stroke-width="0.95"/>
<line x1="297.8" y1="331.3" x2="299.5" y2="331.3" stroke="#333" stroke-width="0.95"/>
<line x1="297.8" y1="309.26" x2="299.5" y2="309.26" stroke="#333" stroke-width="0.95"/>
<line x1="297.8" y1="287.22" x2="299.5" y2="287.22" stroke="#333" stroke-width="0.95"/>
<line x1="319.7" y1="386.4" x2="319.7" y2="388.7" stroke="#333" stroke-width="0.95"/>
<text x="319.7" y="398.9" font-size="8.6" font-weight="bold" text-anchor="middle" fill="#111" stroke="#111" stroke-width="0.2">KO+V</text>
<line x1="351.3" y1="386.4" x2="351.3" y2="388.7" stroke="#333" stroke-width="0.95"/>
<text x="351.3" y="398.9" font-size="8.6" font-weight="bold" text-anchor="middle" fill="#111" stroke="#111" stroke-width="0.2">KO+H</text>
<text x="275.6" y="331.6" font-size="9" font-weight="bold" text-anchor="middle" fill="#111" stroke="#111" stroke-width="0.15" transform="rotate(-90 275.6 331.6)">Relative metabolite level</text>
<text x="328.4" y="264.6" font-size="10.8" font-weight="bold" text-anchor="middle" fill="#111" stroke="#111" stroke-width="0.25">AICAR</text>
<line x1="320.3" y1="280" x2="352.5" y2="280" stroke="#111" stroke-width="1.5"/>
<text x="336.6" y="285.2" font-size="18.5" text-anchor="middle" fill="#111" stroke="#111" stroke-width="0.35">*</text>
<rect x="424.6" y="313.2" width="20" height="73.3" fill="#faa2a2" stroke="none" stroke-width="1"/>
<path d="M424.6 386.5V313.2H444.6V386.5" fill="none" stroke="#111" stroke-width="1.7"/>
<rect x="456.6" y="347.6" width="20" height="38.9" fill="#a2f59c" stroke="none" stroke-width="1"/>
<path d="M456.6 386.5V347.6H476.6V386.5" fill="none" stroke="#111" stroke-width="1.7"/>
<line x1="434.6" y1="287.9" x2="434.6" y2="337.1" stroke="#555" stroke-width="0.85"/>
<line x1="429.6" y1="287.9" x2="439.6" y2="287.9" stroke="#555" stroke-width="0.85"/>
<line x1="429.6" y1="337.1" x2="439.6" y2="337.1" stroke="#555" stroke-width="0.85"/>
<line x1="466.6" y1="322.1" x2="466.6" y2="372.2" stroke="#555" stroke-width="0.85"/>
<line x1="461.6" y1="322.1" x2="471.6" y2="322.1" stroke="#555" stroke-width="0.85"/>
<line x1="461.6" y1="372.2" x2="471.6" y2="372.2" stroke="#555" stroke-width="0.85"/>
<circle cx="434.6" cy="281.5" r="1.5" fill="#000" stroke="none" stroke-width="0.6"/>
<circle cx="434.6" cy="285" r="1.5" fill="#000" stroke="none" stroke-width="0.6"/>
<circle cx="434.6" cy="313.6" r="1.5" fill="#000" stroke="none" stroke-width="0.6"/>
<circle cx="431.5" cy="325.8" r="1.5" fill="#000" stroke="none" stroke-width="0.6"/>
<circle cx="437.6" cy="327" r="1.5" fill="#000" stroke="none" stroke-width="0.6"/>
<circle cx="434.6" cy="342.8" r="1.5" fill="#000" stroke="none" stroke-width="0.6"/>
<rect x="465.3" y="307.7" width="2.6" height="2.6" fill="#000" stroke="none" stroke-width="1"/>
<rect x="465.3" y="322.2" width="2.6" height="2.6" fill="#000" stroke="none" stroke-width="1"/>
<rect x="462" y="357.1" width="2.6" height="2.6" fill="#000" stroke="none" stroke-width="1"/>
<rect x="468" y="355" width="2.6" height="2.6" fill="#000" stroke="none" stroke-width="1"/>
<rect x="468" y="358.9" width="2.6" height="2.6" fill="#000" stroke="none" stroke-width="1"/>
<rect x="465.3" y="372.7" width="2.6" height="2.6" fill="#000" stroke="none" stroke-width="1"/>
<line x1="413.5" y1="275.8" x2="413.5" y2="387" stroke="#333" stroke-width="0.95"/>
<line x1="413.1" y1="386.5" x2="487.7" y2="386.5" stroke="#333" stroke-width="0.95"/>
<line x1="410.7" y1="386.5" x2="413.5" y2="386.5" stroke="#333" stroke-width="0.95"/>
<text x="409.6" y="389.5" font-size="8.6" font-weight="bold" text-anchor="end" fill="#1a1a1a" stroke="#1a1a1a" stroke-width="0.2">0.0</text>
<line x1="410.7" y1="349.73" x2="413.5" y2="349.73" stroke="#333" stroke-width="0.95"/>
<text x="409.6" y="352.73" font-size="8.6" font-weight="bold" text-anchor="end" fill="#1a1a1a" stroke="#1a1a1a" stroke-width="0.2">0.5</text>
<line x1="410.7" y1="312.97" x2="413.5" y2="312.97" stroke="#333" stroke-width="0.95"/>
<text x="409.6" y="315.97" font-size="8.6" font-weight="bold" text-anchor="end" fill="#1a1a1a" stroke="#1a1a1a" stroke-width="0.2">1.0</text>
<line x1="410.7" y1="276.2" x2="413.5" y2="276.2" stroke="#333" stroke-width="0.95"/>
<text x="409.6" y="279.2" font-size="8.6" font-weight="bold" text-anchor="end" fill="#1a1a1a" stroke="#1a1a1a" stroke-width="0.2">1.5</text>
<line x1="411.8" y1="368.12" x2="413.5" y2="368.12" stroke="#333" stroke-width="0.95"/>
<line x1="411.8" y1="331.35" x2="413.5" y2="331.35" stroke="#333" stroke-width="0.95"/>
<line x1="411.8" y1="294.58" x2="413.5" y2="294.58" stroke="#333" stroke-width="0.95"/>
<line x1="434.4" y1="386.5" x2="434.4" y2="388.8" stroke="#333" stroke-width="0.95"/>
<text x="434.4" y="399" font-size="8.6" font-weight="bold" text-anchor="middle" fill="#111" stroke="#111" stroke-width="0.2">KO+V</text>
<line x1="466.4" y1="386.5" x2="466.4" y2="388.8" stroke="#333" stroke-width="0.95"/>
<text x="466.4" y="399" font-size="8.6" font-weight="bold" text-anchor="middle" fill="#111" stroke="#111" stroke-width="0.2">KO+H</text>
<text x="390.4" y="331" font-size="9" font-weight="bold" text-anchor="middle" fill="#111" stroke="#111" stroke-width="0.15" transform="rotate(-90 390.4 331)">Relative metabolite level</text>
<text x="445" y="260.6" font-size="10.8" font-weight="bold" text-anchor="middle" fill="#111" stroke="#111" stroke-width="0.25">F1,6P</text>
<line x1="434" y1="274" x2="466" y2="274" stroke="#111" stroke-width="1.5"/>
<text x="449.4" y="279.4" font-size="18.5" text-anchor="middle" fill="#111" stroke="#111" stroke-width="0.35">*</text>
<rect x="310.7" y="485.8" width="19.9" height="55.2" fill="#faa2a2" stroke="none" stroke-width="1"/>
<path d="M310.7 541V485.8H330.6V541" fill="none" stroke="#111" stroke-width="1.7"/>
<rect x="341.9" y="512.3" width="20.4" height="28.7" fill="#a2f59c" stroke="none" stroke-width="1"/>
<path d="M341.9 541V512.3H362.3V541" fill="none" stroke="#111" stroke-width="1.7"/>
<line x1="320.4" y1="465.5" x2="320.4" y2="505.7" stroke="#555" stroke-width="0.85"/>
<line x1="315.4" y1="465.5" x2="325.4" y2="465.5" stroke="#555" stroke-width="0.85"/>
<line x1="315.4" y1="505.7" x2="325.4" y2="505.7" stroke="#555" stroke-width="0.85"/>
<line x1="351.9" y1="507.5" x2="351.9" y2="517.5" stroke="#555" stroke-width="0.85"/>
<line x1="347.4" y1="507.5" x2="356.4" y2="507.5" stroke="#555" stroke-width="0.85"/>
<line x1="347.4" y1="517.5" x2="356.4" y2="517.5" stroke="#555" stroke-width="0.85"/>
<circle cx="320.4" cy="458.9" r="1.5" fill="#000" stroke="none" stroke-width="0.6"/>
<circle cx="320.4" cy="465.5" r="1.5" fill="#000" stroke="none" stroke-width="0.6"/>
<circle cx="320.4" cy="481.1" r="1.5" fill="#000" stroke="none" stroke-width="0.6"/>
<circle cx="317.4" cy="499.4" r="1.5" fill="#000" stroke="none" stroke-width="0.6"/>
<circle cx="323.6" cy="501.3" r="1.5" fill="#000" stroke="none" stroke-width="0.6"/>
<circle cx="320.4" cy="506.4" r="1.5" fill="#000" stroke="none" stroke-width="0.6"/>
<rect x="344.5" y="505.1" width="2.6" height="2.6" fill="#000" stroke="none" stroke-width="1"/>
<rect x="350.6" y="506.6" width="2.6" height="2.6" fill="#000" stroke="none" stroke-width="1"/>
<rect x="356.2" y="506.6" width="2.6" height="2.6" fill="#000" stroke="none" stroke-width="1"/>
<rect x="348.1" y="512.7" width="2.6" height="2.6" fill="#000" stroke="none" stroke-width="1"/>
<rect x="353.8" y="513.2" width="2.6" height="2.6" fill="#000" stroke="none" stroke-width="1"/>
<rect x="350.6" y="517.9" width="2.6" height="2.6" fill="#000" stroke="none" stroke-width="1"/>
<line x1="299.5" y1="430.2" x2="299.5" y2="541.5" stroke="#333" stroke-width="0.95"/>
<line x1="299.1" y1="541" x2="373" y2="541" stroke="#333" stroke-width="0.95"/>
<line x1="296.7" y1="541" x2="299.5" y2="541" stroke="#333" stroke-width="0.95"/>
<text x="295.6" y="544" font-size="8.6" font-weight="bold" text-anchor="end" fill="#1a1a1a" stroke="#1a1a1a" stroke-width="0.2">0.0</text>
<line x1="296.7" y1="513.4" x2="299.5" y2="513.4" stroke="#333" stroke-width="0.95"/>
<text x="295.6" y="516.4" font-size="8.6" font-weight="bold" text-anchor="end" fill="#1a1a1a" stroke="#1a1a1a" stroke-width="0.2">0.5</text>
<line x1="296.7" y1="485.8" x2="299.5" y2="485.8" stroke="#333" stroke-width="0.95"/>
<text x="295.6" y="488.8" font-size="8.6" font-weight="bold" text-anchor="end" fill="#1a1a1a" stroke="#1a1a1a" stroke-width="0.2">1.0</text>
<line x1="296.7" y1="458.2" x2="299.5" y2="458.2" stroke="#333" stroke-width="0.95"/>
<text x="295.6" y="461.2" font-size="8.6" font-weight="bold" text-anchor="end" fill="#1a1a1a" stroke="#1a1a1a" stroke-width="0.2">1.5</text>
<line x1="296.7" y1="430.6" x2="299.5" y2="430.6" stroke="#333" stroke-width="0.95"/>
<text x="295.6" y="433.6" font-size="8.6" font-weight="bold" text-anchor="end" fill="#1a1a1a" stroke="#1a1a1a" stroke-width="0.2">2.0</text>
<line x1="297.8" y1="527.2" x2="299.5" y2="527.2" stroke="#333" stroke-width="0.95"/>
<line x1="297.8" y1="499.6" x2="299.5" y2="499.6" stroke="#333" stroke-width="0.95"/>
<line x1="297.8" y1="472" x2="299.5" y2="472" stroke="#333" stroke-width="0.95"/>
<line x1="297.8" y1="444.4" x2="299.5" y2="444.4" stroke="#333" stroke-width="0.95"/>
<line x1="320" y1="541" x2="320" y2="543.3" stroke="#333" stroke-width="0.95"/>
<text x="320" y="553.5" font-size="8.6" font-weight="bold" text-anchor="middle" fill="#111" stroke="#111" stroke-width="0.2">KO+V</text>
<line x1="351.6" y1="541" x2="351.6" y2="543.3" stroke="#333" stroke-width="0.95"/>
<text x="351.6" y="553.5" font-size="8.6" font-weight="bold" text-anchor="middle" fill="#111" stroke="#111" stroke-width="0.2">KO+H</text>
<text x="275.2" y="484.4" font-size="9" font-weight="bold" text-anchor="middle" fill="#111" stroke="#111" stroke-width="0.15" transform="rotate(-90 275.2 484.4)">Relative metabolite level</text>
<text x="336.4" y="421.9" font-size="10.8" font-weight="bold" text-anchor="middle" fill="#111" stroke="#111" stroke-width="0.25">3PG</text>
<line x1="320.4" y1="450.8" x2="352.5" y2="450.8" stroke="#111" stroke-width="1.5"/>
<text x="336.8" y="456.4" font-size="18.5" text-anchor="middle" fill="#111" stroke="#111" stroke-width="0.35">*</text>
<rect x="424.7" y="467.6" width="19.9" height="73.4" fill="#faa2a2" stroke="none" stroke-width="1"/>
<path d="M424.7 541V467.6H444.6V541" fill="none" stroke="#111" stroke-width="1.7"/>
<rect x="456.4" y="494.4" width="20.1" height="46.6" fill="#a2f59c" stroke="none" stroke-width="1"/>
<path d="M456.4 541V494.4H476.5V541" fill="none" stroke="#111" stroke-width="1.7"/>
<line x1="434.8" y1="442.2" x2="434.8" y2="491.1" stroke="#555" stroke-width="0.85"/>
<line x1="429.8" y1="442.2" x2="439.8" y2="442.2" stroke="#555" stroke-width="0.85"/>
<line x1="429.8" y1="491.1" x2="439.8" y2="491.1" stroke="#555" stroke-width="0.85"/>
<line x1="466.4" y1="463.3" x2="466.4" y2="524.1" stroke="#555" stroke-width="0.85"/>
<line x1="461.4" y1="463.3" x2="471.4" y2="463.3" stroke="#555" stroke-width="0.85"/>
<line x1="461.4" y1="524.1" x2="471.4" y2="524.1" stroke="#555" stroke-width="0.85"/>
<circle cx="434.8" cy="435.8" r="1.5" fill="#000" stroke="none" stroke-width="0.6"/>
<circle cx="434.8" cy="444.8" r="1.5" fill="#000" stroke="none" stroke-width="0.6"/>
<circle cx="434.8" cy="457.3" r="1.5" fill="#000" stroke="none" stroke-width="0.6"/>
<circle cx="431.8" cy="483.2" r="1.5" fill="#000" stroke="none" stroke-width="0.6"/>
<circle cx="437.6" cy="486" r="1.5" fill="#000" stroke="none" stroke-width="0.6"/>
<circle cx="434.8" cy="494.4" r="1.5" fill="#000" stroke="none" stroke-width="0.6"/>
<rect x="465.1" y="442.7" width="2.6" height="2.6" fill="#000" stroke="none" stroke-width="1"/>
<circle cx="466.4" cy="470.7" r="1.5" fill="#000" stroke="none" stroke-width="0.6"/>
<circle cx="466.4" cy="503" r="1.5" fill="#000" stroke="none" stroke-width="0.6"/>
<circle cx="466.4" cy="508.6" r="1.5" fill="#000" stroke="none" stroke-width="0.6"/>
<rect x="465.1" y="512" width="2.6" height="2.6" fill="#000" stroke="none" stroke-width="1"/>
<circle cx="466.4" cy="522.4" r="1.5" fill="#000" stroke="none" stroke-width="0.6"/>
<line x1="413.5" y1="430.3" x2="413.5" y2="541.5" stroke="#333" stroke-width="0.95"/>
<line x1="413.1" y1="541" x2="487.7" y2="541" stroke="#333" stroke-width="0.95"/>
<line x1="410.7" y1="541" x2="413.5" y2="541" stroke="#333" stroke-width="0.95"/>
<text x="409.6" y="544" font-size="8.6" font-weight="bold" text-anchor="end" fill="#1a1a1a" stroke="#1a1a1a" stroke-width="0.2">0.0</text>
<line x1="410.7" y1="504.23" x2="413.5" y2="504.23" stroke="#333" stroke-width="0.95"/>
<text x="409.6" y="507.23" font-size="8.6" font-weight="bold" text-anchor="end" fill="#1a1a1a" stroke="#1a1a1a" stroke-width="0.2">0.5</text>
<line x1="410.7" y1="467.47" x2="413.5" y2="467.47" stroke="#333" stroke-width="0.95"/>
<text x="409.6" y="470.47" font-size="8.6" font-weight="bold" text-anchor="end" fill="#1a1a1a" stroke="#1a1a1a" stroke-width="0.2">1.0</text>
<line x1="410.7" y1="430.7" x2="413.5" y2="430.7" stroke="#333" stroke-width="0.95"/>
<text x="409.6" y="433.7" font-size="8.6" font-weight="bold" text-anchor="end" fill="#1a1a1a" stroke="#1a1a1a" stroke-width="0.2">1.5</text>
<line x1="411.8" y1="522.62" x2="413.5" y2="522.62" stroke="#333" stroke-width="0.95"/>
<line x1="411.8" y1="485.85" x2="413.5" y2="485.85" stroke="#333" stroke-width="0.95"/>
<line x1="411.8" y1="449.08" x2="413.5" y2="449.08" stroke="#333" stroke-width="0.95"/>
<line x1="434.5" y1="541" x2="434.5" y2="543.3" stroke="#333" stroke-width="0.95"/>
<text x="434.5" y="553.5" font-size="8.6" font-weight="bold" text-anchor="middle" fill="#111" stroke="#111" stroke-width="0.2">KO+V</text>
<line x1="466.4" y1="541" x2="466.4" y2="543.3" stroke="#333" stroke-width="0.95"/>
<text x="466.4" y="553.5" font-size="8.6" font-weight="bold" text-anchor="middle" fill="#111" stroke="#111" stroke-width="0.2">KO+H</text>
<text x="390.8" y="485" font-size="9" font-weight="bold" text-anchor="middle" fill="#111" stroke="#111" stroke-width="0.15" transform="rotate(-90 390.8 485)">Relative metabolite level</text>
<text x="449" y="421.7" font-size="10.8" font-weight="bold" text-anchor="middle" fill="#111" stroke="#111" stroke-width="0.25">6PG</text>
</svg>
</body></html>
